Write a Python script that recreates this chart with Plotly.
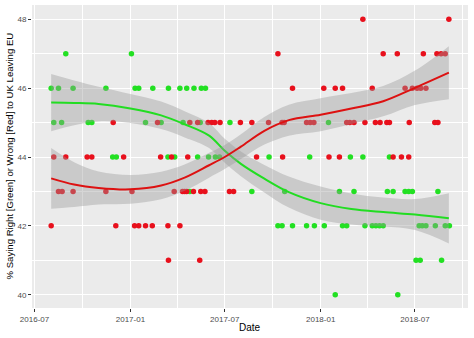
import plotly.graph_objects as go

# Poll readings: share saying the Leave vote was right / wrong
right_dates = [
    "2016-08-30", "2017-01-03",
    "2016-08-02", "2016-08-16", "2016-09-13", "2016-11-15", "2017-01-10", "2017-01-17",
    "2017-02-13", "2017-03-15", "2017-04-06", "2017-04-19", "2017-05-03", "2017-05-17", "2017-05-25",
    "2016-08-07", "2016-08-22", "2016-10-12", "2016-10-19", "2017-01-30", "2017-03-01",
    "2017-04-12", "2017-05-15", "2017-07-11", "2018-01-16",
    "2016-11-28", "2016-12-05", "2017-03-14", "2017-03-27", "2017-05-10", "2017-05-31",
    "2017-06-13", "2017-06-21", "2017-09-24", "2017-12-11", "2018-02-27", "2018-03-23", "2018-05-13",
    "2017-04-25", "2017-08-22", "2017-10-24", "2018-02-06", "2018-03-06", "2018-05-09",
    "2018-05-20", "2018-06-12", "2018-06-19", "2018-06-26", "2018-08-14",
    "2017-10-11", "2017-10-19", "2017-11-08", "2017-12-05", "2017-12-20", "2018-01-08",
    "2018-02-12", "2018-02-20", "2018-03-27", "2018-04-10", "2018-04-17", "2018-04-24",
    "2018-05-01", "2018-07-09", "2018-07-15", "2018-07-22", "2018-08-09", "2018-08-28", "2018-09-05",
    "2018-07-03", "2018-07-11", "2018-08-21",
    "2018-01-29", "2018-05-29",
]
right_vals = (
    [47] * 2 + [46] * 13 + [45] * 10 + [44] * 13 + [43] * 11 + [42] * 19 + [41] * 3 + [40] * 2
)

wrong_dates = [
    "2018-03-23", "2018-09-04",
    "2017-10-11", "2018-05-01", "2018-05-28", "2018-07-17", "2018-08-12", "2018-08-20", "2018-08-28",
    "2017-11-08", "2018-01-07", "2018-01-29", "2018-02-12", "2018-04-10", "2018-06-12",
    "2018-06-26", "2018-07-05", "2018-07-12", "2018-07-22",
    "2016-11-29", "2017-02-22", "2017-04-25", "2017-05-10", "2017-05-30", "2017-06-06",
    "2017-06-12", "2017-06-22", "2017-07-31", "2017-08-22", "2017-09-23", "2017-10-19",
    "2017-10-23", "2017-12-05", "2017-12-12", "2017-12-19", "2018-02-20", "2018-02-26",
    "2018-03-06", "2018-03-27", "2018-04-16", "2018-04-25", "2018-05-08", "2018-05-13",
    "2018-06-20", "2018-08-08", "2018-08-14",
    "2016-08-07", "2016-08-30", "2016-10-10", "2016-10-19", "2016-12-19", "2017-02-28",
    "2017-03-21", "2017-04-21", "2017-08-31", "2017-10-20", "2018-01-17", "2018-02-06",
    "2018-05-20", "2018-06-05", "2018-06-19",
    "2016-08-16", "2016-08-23", "2016-09-13", "2016-11-15", "2017-01-04", "2017-03-26",
    "2017-04-11", "2017-04-15", "2017-04-19", "2017-05-02", "2017-05-16", "2017-05-24",
    "2017-07-10", "2017-07-18",
    "2016-08-02", "2016-12-04", "2017-01-09", "2017-01-17", "2017-01-30", "2017-02-12",
    "2017-03-14", "2017-04-06",
    "2017-03-15", "2017-05-14",
]
wrong_vals = (
    [48] * 2 + [47] * 7 + [46] * 10 + [45] * 27 + [44] * 15 + [43] * 14 + [42] * 8 + [41] * 2
)

# Loess fits with their 95% bands, sampled along the date axis
smooth_dates = [
    "2016-08-02", "2016-09-15", "2016-11-01", "2017-01-01", "2017-03-01", "2017-04-15",
    "2017-06-01", "2017-07-01", "2017-08-01", "2017-09-15", "2017-11-01", "2018-01-01",
    "2018-03-01", "2018-05-01", "2018-07-01", "2018-09-04",
]
right_fit = [45.58, 45.57, 45.54, 45.41, 45.21, 44.95, 44.62, 44.18, 43.80, 43.37,
             42.98, 42.66, 42.49, 42.40, 42.33, 42.22]
right_hi = [46.41, 46.22, 46.04, 45.83, 45.61, 45.33, 44.98, 44.53, 44.16, 43.77,
            43.43, 43.14, 42.94, 42.82, 42.78, 42.95]
right_lo = [44.75, 44.92, 45.04, 44.99, 44.81, 44.57, 44.26, 43.83, 43.44, 42.97,
            42.53, 42.18, 42.04, 41.98, 41.88, 41.49]

wrong_fit = [43.38, 43.20, 43.10, 43.06, 43.17, 43.40, 43.76, 44.00, 44.30, 44.76,
             45.07, 45.23, 45.41, 45.62, 46.01, 46.45]
wrong_hi = [44.26, 43.85, 43.58, 43.48, 43.57, 43.78, 44.12, 44.35, 44.66, 45.16,
            45.52, 45.71, 45.86, 46.06, 46.51, 47.22]
wrong_lo = [42.50, 42.55, 42.62, 42.64, 42.77, 43.02, 43.40, 43.65, 43.94, 44.36,
            44.62, 44.75, 44.96, 45.18, 45.51, 45.68]

RED = "#E8101C"
GREEN = "#22E022"
BAND = "rgba(153,153,153,0.4)"
FONT = "Liberation Sans, Arial, sans-serif"

fig = go.Figure()

fig.add_trace(go.Scatter(x=right_dates, y=right_vals, mode="markers",
                         marker=dict(color=GREEN, size=5.5, line=dict(width=0)),
                         showlegend=False, hoverinfo="skip"))
fig.add_trace(go.Scatter(x=wrong_dates, y=wrong_vals, mode="markers",
                         marker=dict(color=RED, size=5.5, line=dict(width=0)),
                         showlegend=False, hoverinfo="skip"))

for fit, hi, lo, col in [(right_fit, right_hi, right_lo, "#22DD22"),
                         (wrong_fit, wrong_hi, wrong_lo, "#DD1111")]:
    fig.add_trace(go.Scatter(x=smooth_dates, y=hi, mode="lines",
                             line=dict(width=0, shape="spline"),
                             showlegend=False, hoverinfo="skip"))
    fig.add_trace(go.Scatter(x=smooth_dates, y=lo, mode="lines", fill="tonexty",
                             fillcolor=BAND, line=dict(width=0, shape="spline"),
                             showlegend=False, hoverinfo="skip"))
    fig.add_trace(go.Scatter(x=smooth_dates, y=fit, mode="lines",
                             line=dict(color=col, width=2, shape="spline"),
                             showlegend=False, hoverinfo="skip"))

axis_common = dict(
    showgrid=True, gridcolor="white", gridwidth=1.1,
    zeroline=False, showline=False,
    ticks="outside", ticklen=3, tickwidth=1, tickcolor="#333333",
    tickfont=dict(family=FONT, size=8, color="#4D4D4D"),
)

# plot-area size in pixels, used to place the axis titles
ML, MR, MT, MB = 32, 6, 5, 30
PW = 474 - ML - MR
PH = 338 - MT - MB

fig.update_layout(
    width=474, height=338,
    margin=dict(l=ML, r=MR, t=MT, b=MB),
    paper_bgcolor="white", plot_bgcolor="#EBEBEB",
    xaxis=dict(type="date", range=["2016-06-26 05:00", "2018-10-10 17:00"],
               tick0="2016-07-01", dtick="M6", tickformat="%Y-%m",
               minor=dict(dtick="M3", tick0="2016-07-01", showgrid=True,
                          gridcolor="white", gridwidth=0.5, ticks=""),
               **axis_common),
    yaxis=dict(range=[39.614, 48.415], tick0=40, dtick=2,
               minor=dict(dtick=1, showgrid=True, gridcolor="white",
                          gridwidth=0.5, ticks=""),
               **axis_common),
    annotations=[
        dict(text="Date", x=0.5, xref="paper", y=(MT + PH - 327) / PH, yref="paper",
             xanchor="center", yanchor="middle", showarrow=False,
             font=dict(family=FONT, size=10, color="black")),
        dict(text="% Saying Right [Green] or Wrong [Red] to UK Leaving EU",
             x=(9 - ML) / PW, y=0.5, xref="paper", yref="paper",
             xanchor="center", yanchor="middle", textangle=-90, showarrow=False,
             font=dict(family=FONT, size=9.6, color="black")),
    ],
)

fig.write_html("out.html")
